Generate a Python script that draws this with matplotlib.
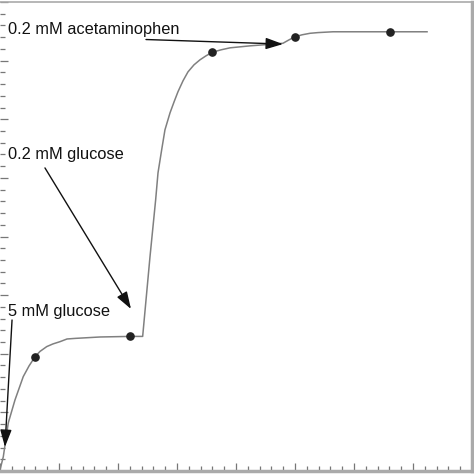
import matplotlib
matplotlib.use("Agg")
import matplotlib.pyplot as plt
from matplotlib.ticker import MultipleLocator

# Response curve (arbitrary units)
time = [0.0, 0.28, 0.70, 1.27, 1.97, 2.46, 2.97, 3.39, 3.96, 4.49, 5.08, 5.68, 6.36,
        8.47, 11.02, 12.09,
        12.71, 13.19, 13.39, 13.70, 13.98, 14.41, 14.75, 15.08, 15.51, 15.93, 16.44,
        16.95, 17.46, 17.99, 18.73, 19.49, 21.19, 22.88, 23.98, 24.49, 25.00, 25.59,
        26.27, 26.95, 28.22, 33.05, 36.19]
signal = [0.09, 1.22, 4.10, 6.06, 8.05, 8.96, 9.75, 10.20, 10.61, 10.84, 11.03, 11.26, 11.31,
          11.43, 11.48, 11.48,
          18.26, 23.12, 25.43, 27.39, 29.10, 30.55, 31.48, 32.34, 33.28, 34.04, 34.64,
          35.07, 35.41, 35.71, 35.92, 36.09, 36.26, 36.39, 36.48, 36.77, 37.03, 37.20,
          37.33, 37.39, 37.46, 37.46, 37.46]

# highlighted points
dot_time = [2.97, 11.02, 17.99, 25.00, 33.05]
dot_signal = [9.75, 11.48, 35.71, 37.03, 37.46]

labels = ["0.2 mM acetaminophen", "0.2 mM glucose", "5 mM glucose"]
label_pos = [(0.68, 37.63), (0.68, 26.96), (0.68, 13.57)]
arrow_start = [(12.37, 36.80), (3.81, 25.85), (1.02, 12.88)]
arrow_tip = [(23.98, 36.41), (11.10, 13.82), (0.42, 2.05)]

fig = plt.figure(figsize=(4.74, 4.74), dpi=100)
ax = fig.add_axes([0.0, 0.0063, 0.9958, 0.9895])

ax.plot(time, signal, color="#808080", lw=1.1, zorder=2, solid_joinstyle="round")
ax.plot(dot_time, dot_signal, "o", color="#222222", ms=5.2, zorder=3)

for lab, (tx, ty) in zip(labels, label_pos):
    ax.text(tx, ty, lab, ha="left", va="center", fontsize=11.8,
            family="Liberation Sans", color="#111111")

for (sx, sy), (ex, ey) in zip(arrow_start, arrow_tip):
    ax.annotate("", xy=(ex, ey), xytext=(sx, sy),
                arrowprops=dict(arrowstyle="-|>,head_length=0.75,head_width=0.25",
                                color="#555555", lw=1.0,
                                mutation_scale=14, shrinkA=0, shrinkB=0,
                                fc="#111111", ec="#111111"))

ax.set_xlim(0, 40)
ax.set_ylim(0, 40)
ax.xaxis.set_major_locator(MultipleLocator(5))
ax.xaxis.set_minor_locator(MultipleLocator(1))
ax.yaxis.set_major_locator(MultipleLocator(5))
ax.yaxis.set_minor_locator(MultipleLocator(1))
ax.tick_params(which="both", direction="in", color="#777777", width=0.9,
               labelbottom=False, labelleft=False, top=False, right=False)
ax.tick_params(which="major", length=6)
ax.tick_params(which="minor", length=3.5)

ax.spines["left"].set_visible(False)
ax.spines["top"].set_color("#aaaaaa")
ax.spines["top"].set_linewidth(1.2)
ax.spines["bottom"].set_color("#aaaaaa")
ax.spines["bottom"].set_linewidth(2.5)
ax.spines["right"].set_color("#aaaaaa")
ax.spines["right"].set_linewidth(2.5)

fig.savefig("out.png", dpi=100)
